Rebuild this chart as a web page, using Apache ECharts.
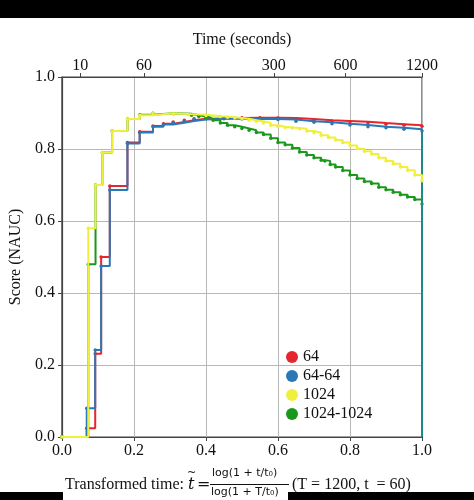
<!DOCTYPE html>
<html>
<head>
<meta charset="UTF-8">
<title>NAUC score</title>
<script type="text/javascript" src="https://cdn.jsdelivr.net/npm/echarts@6/dist/echarts.min.js"></script>
<style>body{margin:0;background:#fff;}</style>
</head>
<body>
<div id="main" style="width:474px;height:500px;"></div>

<script type="text/javascript">
// x = transformed time, y = score (NAUC)
var xShort = [0, 0.069, 0.0925, 0.109, 0.133, 0.182, 0.216, 0.253, 0.282, 0.309, 0.340, 0.367, 0.40, 0.45, 0.50, 0.55, 0.60, 0.65, 0.70, 0.75, 0.80, 0.85, 0.90, 0.95, 1.0];
var y64 = [0, 0.024, 0.231, 0.50, 0.697, 0.818, 0.848, 0.864, 0.870, 0.875, 0.880, 0.884, 0.885, 0.886, 0.887, 0.887, 0.886, 0.883, 0.880, 0.878, 0.876, 0.872, 0.869, 0.866, 0.863];
var y6464 = [0, 0.08, 0.242, 0.475, 0.686, 0.815, 0.846, 0.862, 0.868, 0.873, 0.878, 0.882, 0.884, 0.884, 0.883, 0.883, 0.882, 0.877, 0.874, 0.870, 0.867, 0.862, 0.859, 0.855, 0.850];

var x1024 = [0, 0.0732, 0.0934, 0.1123, 0.1395, 0.1823, 0.2163, 0.2528, 0.31, 0.35, 0.40, 0.42, 0.44, 0.46, 0.48, 0.50, 0.52, 0.54, 0.56, 0.58, 0.60, 0.62, 0.64, 0.66, 0.68, 0.70, 0.72, 0.74, 0.76, 0.78, 0.80, 0.82, 0.84, 0.86, 0.88, 0.90, 0.92, 0.94, 0.96, 0.98, 1.0];
var y1024 = [0, 0.58, 0.70, 0.79, 0.85, 0.883, 0.894, 0.899, 0.897, 0.895, 0.893, 0.891, 0.890, 0.888, 0.886, 0.884, 0.880, 0.877, 0.872, 0.866, 0.862, 0.860, 0.858, 0.856, 0.850, 0.845, 0.838, 0.832, 0.825, 0.818, 0.810, 0.801, 0.794, 0.786, 0.776, 0.767, 0.759, 0.750, 0.741, 0.728, 0.712];

var x10241024 = [0, 0.0732, 0.0934, 0.1123, 0.1395, 0.1823, 0.2163, 0.2528, 0.31, 0.36, 0.38, 0.40, 0.42, 0.44, 0.46, 0.48, 0.50, 0.52, 0.54, 0.56, 0.58, 0.60, 0.62, 0.64, 0.66, 0.68, 0.70, 0.72, 0.73, 0.745, 0.76, 0.78, 0.80, 0.82, 0.84, 0.86, 0.88, 0.90, 0.92, 0.94, 0.96, 0.98, 1.0];
var y10241024 = [0, 0.48, 0.70, 0.79, 0.85, 0.883, 0.895, 0.899, 0.898, 0.894, 0.890, 0.886, 0.880, 0.872, 0.866, 0.862, 0.857, 0.852, 0.846, 0.840, 0.830, 0.818, 0.812, 0.803, 0.792, 0.783, 0.776, 0.769, 0.767, 0.757, 0.750, 0.740, 0.728, 0.718, 0.710, 0.704, 0.694, 0.687, 0.680, 0.673, 0.667, 0.660, 0.647];

var names = ['64', '64-64', '1024', '1024-1024'];
var colors = ['#e5262d', '#2a78b6', '#f0f03c', '#1b981b'];

// top axis: seconds
var topTimes = [10, 60, 300, 600, 1200];
var T = 1200, t0 = 60;
function tr(t) { return Math.log(1 + t / t0) / Math.log(1 + T / t0); }
var topPos = topTimes.map(tr);

function pairs(xs, ys) {
  return xs.map(function (x, i) { return [x, ys[i]]; });
}

var serif = 'Liberation Serif';
var axisColor = '#444';
var gridColor = '#b8b8b8';

function mkSeries(name, color, data, z) {
  return {
    name: name,
    type: 'line',
    step: 'end',
    data: data,
    z: z,
    symbol: 'circle',
    symbolSize: 3.5,
    showAllSymbol: true,
    itemStyle: { color: color },
    lineStyle: { color: color, width: 2 },
    animation: false
  };
}

var mychart = echarts.init(document.getElementById('main'));

var s64 = mkSeries(names[0], colors[0], pairs(xShort, y64), 2);
var s6464 = mkSeries(names[1], colors[1], pairs(xShort, y6464), 3);
var s1024 = mkSeries(names[2], colors[2], pairs(x1024, y1024), 5);
var s10241024 = mkSeries(names[3], colors[3], pairs(x10241024, y10241024), 4);
// the curves fall to 0 at the right edge
s6464.markLine = {
  symbol: 'none', silent: true, label: { show: false },
  lineStyle: { color: '#1d8a86', width: 2, type: 'solid' },
  data: [[{ coord: [1, y6464[y6464.length - 1]] }, { coord: [1, 0] }]]
};

var option = {
  backgroundColor: '#fff',
  animation: false,
  grid: { left: 60, right: 52, top: 77, bottom: 63, show: true, borderColor: axisColor, borderWidth: 1.2 },
  legend: {
    data: names,
    orient: 'vertical',
    left: 281,
    top: 344,
    icon: 'circle',
    itemWidth: 12,
    itemHeight: 12,
    itemGap: 3,
    textStyle: { fontFamily: serif, fontSize: 16, color: '#111' }
  },
  xAxis: [{
    type: 'value', min: 0, max: 1, interval: 0.2, position: 'bottom',
    axisLine: { show: true, lineStyle: { color: axisColor, width: 1.2 } },
    axisTick: { show: true, length: 4, lineStyle: { color: axisColor } },
    axisLabel: { fontFamily: serif, fontSize: 16, color: '#111', margin: 6, formatter: function (v) { return v.toFixed(1); } },
    splitLine: { show: true, lineStyle: { color: gridColor, width: 1 } }
  }, {
    type: 'value', min: 0, max: 1, position: 'top',
    name: 'Time (seconds)', nameLocation: 'middle', nameGap: 29,
    nameTextStyle: { fontFamily: serif, fontSize: 16, color: '#111' },
    axisLine: { show: true, lineStyle: { color: axisColor, width: 1.2 } },
    axisTick: { show: true, length: 4, customValues: topPos, lineStyle: { color: axisColor } },
    axisLabel: {
      fontFamily: serif, fontSize: 16, color: '#111', margin: 3, customValues: topPos,
      formatter: function (v) {
        var best = 0;
        for (var i = 0; i < topPos.length; i++) if (Math.abs(topPos[i] - v) < Math.abs(topPos[best] - v)) best = i;
        return String(topTimes[best]);
      }
    },
    splitLine: { show: false }
  }],
  yAxis: {
    type: 'value', min: 0, max: 1, interval: 0.2,
    name: 'Score (NAUC)', nameLocation: 'middle', nameGap: 35,
    nameTextStyle: { fontFamily: serif, fontSize: 16, color: '#111' },
    axisLine: { show: true, lineStyle: { color: axisColor, width: 1.2 } },
    axisTick: { show: true, length: 4, lineStyle: { color: axisColor } },
    axisLabel: { fontFamily: serif, fontSize: 16, color: '#111', margin: 7, formatter: function (v) { return v.toFixed(1); } },
    splitLine: { show: true, lineStyle: { color: gridColor, width: 1 } }
  },
  series: [s64, s6464, s1024, s10241024],
  graphic: [
    { type: 'text', left: 65, top: 477, style: { text: 'Transformed time:', font: '16px "Liberation Serif"', fill: '#111' } },
    { type: 'text', left: 188, top: 477, style: { text: 't', font: 'italic 16px "DejaVu Serif"', fill: '#111' } },
    { type: 'text', left: 187, top: 468, style: { text: '~', font: '11px "DejaVu Sans"', fill: '#111' } },
    { type: 'text', left: 197, top: 477, style: { text: '=', font: '16px "DejaVu Sans"', fill: '#111' } },
    { type: 'text', left: 212, top: 468, style: { text: 'log(1 + t/t\u2080)', font: '11px "DejaVu Sans"', fill: '#111' } },
    { type: 'line', shape: { x1: 210, y1: 484.5, x2: 289, y2: 484.5 }, style: { stroke: '#111', lineWidth: 1 } },
    { type: 'text', left: 211, top: 487, style: { text: 'log(1 + T/t\u2080)', font: '11px "DejaVu Sans"', fill: '#111' } },
    { type: 'text', left: 292, top: 477, style: { text: '(T = 1200, t  = 60)', font: '16px "Liberation Serif"', fill: '#111' } },
    { type: 'rect', shape: { x: 0, y: 0, width: 474, height: 18 }, style: { fill: '#000' }, z: 100 },
    { type: 'rect', shape: { x: 0, y: 492, width: 63, height: 8 }, style: { fill: '#000' }, z: 100 },
    { type: 'rect', shape: { x: 288, y: 492, width: 186, height: 8 }, style: { fill: '#000' }, z: 100 }
  ]
};

mychart.setOption(option);
</script>
</body>
</html>
